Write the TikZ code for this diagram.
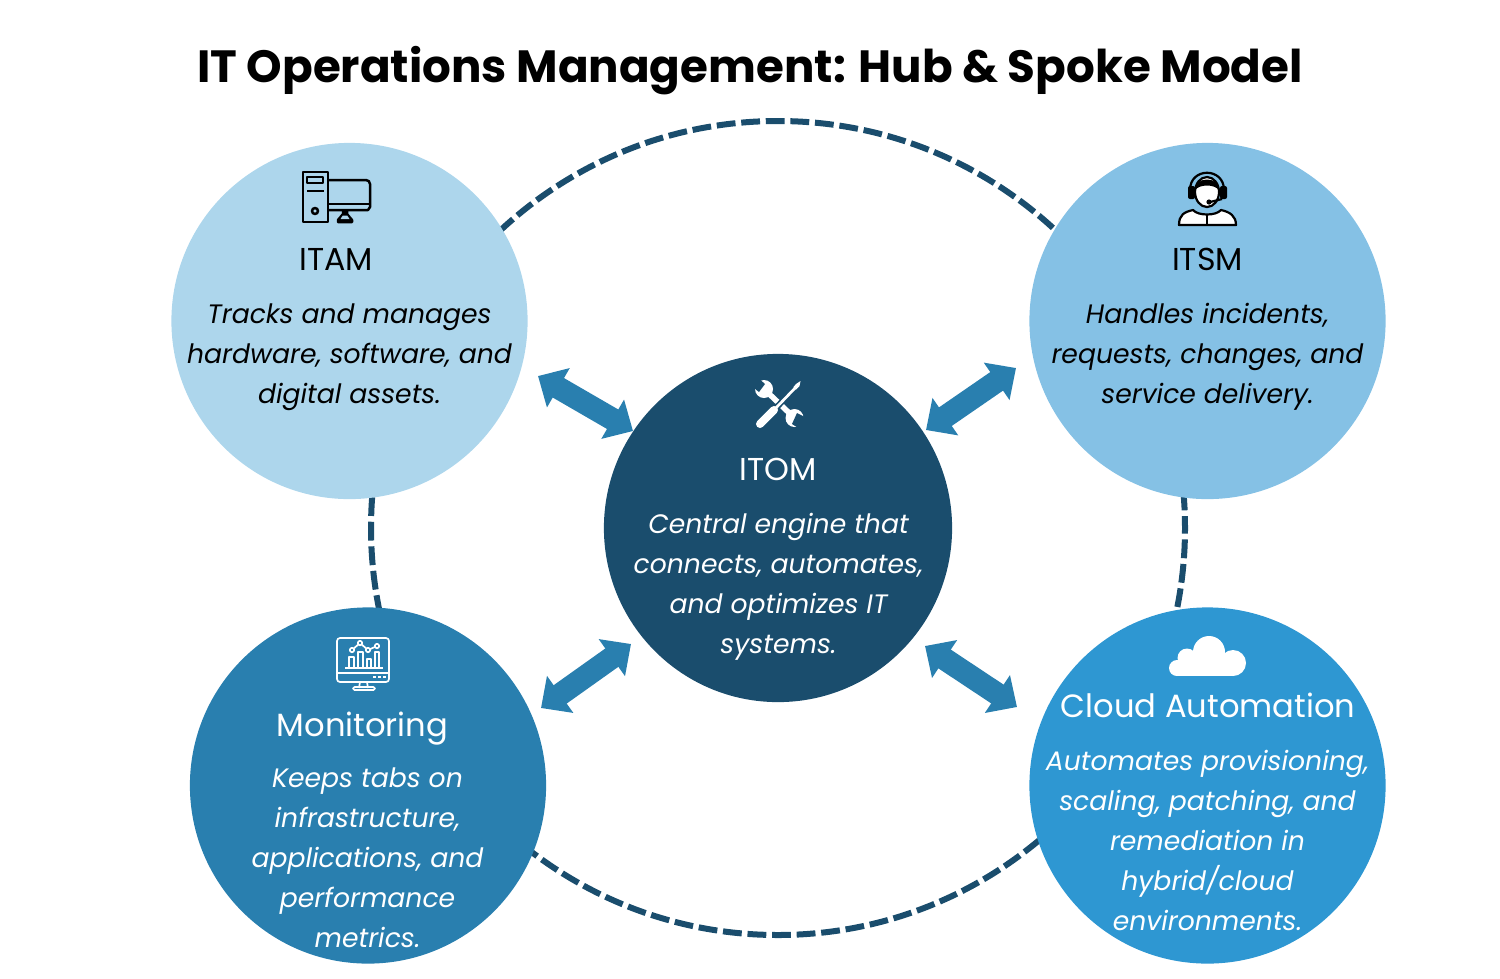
\documentclass[tikz,border=0pt]{standalone}
\usepackage{fontspec}
\setmainfont{Poppins}
\usetikzlibrary{arrows.meta}
\definecolor{itamblue}{HTML}{ADD6EC}
\definecolor{itsmblue}{HTML}{85C1E5}
\definecolor{itomblue}{HTML}{1A4D6D}
\definecolor{monblue}{HTML}{297FAF}
\definecolor{cloudblue}{HTML}{2E97D2}
\tikzset{
    hub/.style={circle, inner sep=0pt, minimum size=3.56cm},
    hubname/.style={inner sep=0pt, font=\fontsize{9}{11}\selectfont},
    hubtext/.style={inner sep=0pt, align=center, font=\fontsize{7.58}{11.38}\selectfont\itshape},
    spoke/.style={line width=0.225cm, {Triangle[length=0.235cm,width=0.44cm]}-{Triangle[length=0.235cm,width=0.44cm]}, monblue}
}
\begin{document}
\begin{tikzpicture}[x=0.01cm, y=-0.01cm]
\useasboundingbox (0,0) rectangle (1500,978);

% Titolo
\node[inner sep=0pt, font=\fontsize{12.85}{16}\selectfont\bfseries] (title) at (750,71) {IT Operations Management: Hub \& Spoke Model};

% Anello tratteggiato
\coordinate (center) at (778,528);
\draw[itomblue, line width=0.06cm, dash pattern=on 0.188cm off 0.0579cm, dash phase=0.132cm] (center) circle (407);

% Cerchi
\node[hub, fill=itamblue] (itam) at (349.5,321) {};
\node[hub, fill=itsmblue] (itsm) at (1207.5,321) {};
\node[hub, fill=monblue] (mon) at (368,785.5) {};
\node[hub, fill=cloudblue] (cloud) at (1207.5,785.5) {};
\node[hub, fill=itomblue, minimum size=3.48cm] (itom) at (center) {};

% Frecce
\coordinate (a1) at (538,376);
\coordinate (a2) at (633,431);
\coordinate (b1) at (1016,368);
\coordinate (b2) at (926,430);
\coordinate (c1) at (631,644);
\coordinate (c2) at (541,708);
\coordinate (d1) at (925,646);
\coordinate (d2) at (1017,707);
\draw[spoke] (a1) -- (a2);
\draw[spoke] (b1) -- (b2);
\draw[spoke] (c1) -- (c2);
\draw[spoke] (d1) -- (d2);

% Testi
\node[hubname] (itamname) at (336,259) {ITAM};
\node[hubtext] (itamtext) at (349.5,357) {Tracks and manages\\hardware, software, and\\digital assets.};
\node[hubname] (itsmname) at (1207.5,259) {ITSM};
\node[hubtext] (itsmtext) at (1207.5,357) {Handles incidents,\\requests, changes, and\\service delivery.};
\node[hubname, white] (itomname) at (778.5,469) {ITOM};
\node[hubtext, white] (itomtext) at (778.5,587) {Central engine that\\connects, automates,\\and optimizes IT\\systems.};
\node[hubname, white, font=\fontsize{9.15}{11}\selectfont] (monname) at (362.5,729) {Monitoring};
\node[hubtext, white] (montext) at (367.5,858) {Keeps tabs on\\infrastructure,\\applications, and\\performance\\metrics.};
\node[hubname, white, font=\fontsize{9.15}{11}\selectfont] (cloudname) at (1208,705) {Cloud Automation};
\node[hubtext, white] (cloudtext) at (1207.5,840) {Automates provisioning,\\scaling, patching, and\\remediation in\\hybrid/cloud\\environments.};

% Icona computer
\begin{scope}[black, line width=0.025cm, line join=round]
    \draw (303,172) rectangle (328,222);
    \draw (307,177) rectangle (323,183);
    \draw (307,191) -- (324,191);
    \draw (315,211) circle (3);
    \draw (328,180) -- (366,180) arc[start angle=-90, end angle=0, radius=4] -- (370,207) -- (368,210) -- (328,210);
    \draw (328,204) -- (370,204);
    \draw[fill=black] (343,210) -- (343,214) -- (338,220) -- (338,222) -- (352,222) -- (352,220) -- (347,214) -- (347,210);
    \fill[itamblue] (342.8,215.5) -- (347.2,215.5) -- (349.5,219) -- (340.5,219) -- cycle;
\end{scope}

% Icona operatore
\begin{scope}[black, line width=0.022cm, line join=round]
    \draw[fill=white] (1179,225) .. controls (1179,215) and (1184,212) .. (1193,210) .. controls (1198,216) and (1216,216) .. (1221,210) .. controls (1230,212) and (1236,216) .. (1236,225) -- cycle;
    \draw (1207,215) -- (1207,225);
    \draw[fill=white] (1207,192) ellipse (12 and 15);
    \fill (1195,190) .. controls (1195,176) and (1219,176) .. (1219,190) .. controls (1214,184) and (1200,184) .. (1195,190) -- cycle;
    \draw (1190,190) .. controls (1190,167) and (1224,167) .. (1224,190);
    \fill[rounded corners=0.02cm] (1188,186) rectangle (1195,199);
    \fill[rounded corners=0.02cm] (1220,186) rectangle (1227,199);
    \draw (1222,199) -- (1210,202);
    \fill (1209,202) circle (2.6);
\end{scope}

% Icona attrezzi
\begin{scope}[white]
    \draw[line width=0.055cm] (764,389) -- (794.5,418);
    \fill (764,389) circle (9);
    \fill (794.5,418) circle (9);
    \fill[itomblue] (765,384) -- (759,392) -- (750,385) -- (756,376) -- cycle;
    \fill[itomblue] (797,413) -- (792,424) -- (803,431) -- (809,419) -- cycle;
    \draw[itomblue, line width=0.06cm] (773,411) -- (799,384);
    \draw[line width=0.027cm] (773,411) -- (797,386);
    \fill (800.5,381) -- (799.5,386) -- (796,389.5) -- (793.5,387) -- (796,384) -- cycle;
    \draw[line width=0.08cm, line cap=round] (760,424) -- (774,410);
\end{scope}

% Icona monitor
\begin{scope}[white, line width=0.017cm, line join=round]
    \draw[rounded corners=0.03cm] (337,638) rectangle (389,682);
    \draw (337,673) -- (389,673);
    \draw (360,682) -- (359,688) (367,682) -- (368,688);
    \draw[rounded corners=0.015cm] (353,690) rectangle (375,687);
    \draw (345,668) -- (383,668);
    \draw (349,668) rectangle (354,657);
    \draw (358,668) rectangle (363,652);
    \draw (367,668) rectangle (371,659);
    \draw (375,668) rectangle (379,652);
    \draw (352,650) -- (360,643) -- (368,650) -- (377,646);
    \draw[fill=monblue] (352,650) circle (2.2);
    \draw[fill=monblue] (360,643) circle (2.2);
    \draw[fill=monblue] (368,650) circle (2.2);
    \draw[fill=monblue] (377,646) circle (2.2);
    \fill (373,676) rectangle (376,678);
    \fill (378,676) rectangle (381,678);
    \fill (383,676) rectangle (386,678);
\end{scope}

% Icona nuvola
\begin{scope}[white]
    \fill (1177,668) circle (8);
    \fill (1187,658) circle (9.5);
    \fill (1209,652) circle (16);
    \fill (1233,663) circle (13);
    \fill (1177,660) rectangle (1233,676);
\end{scope}

\end{tikzpicture}
\end{document}
